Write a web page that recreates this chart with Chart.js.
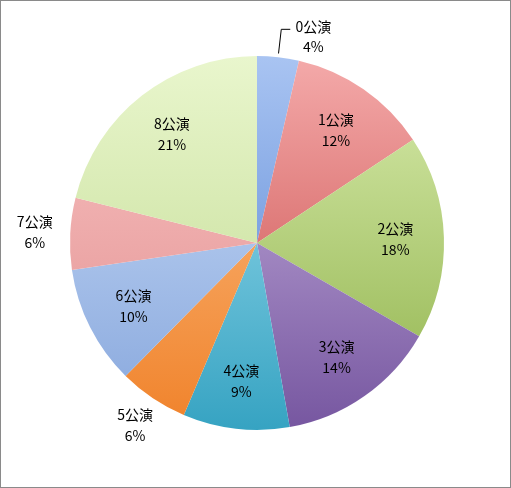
<!DOCTYPE html>
<html><head><meta charset="utf-8">
<script src="https://cdn.jsdelivr.net/npm/chart.js@4"></script>
<style>
html,body{margin:0;padding:0;background:#fff;}
#wrap{position:relative;width:511px;height:488px;}
#frame{position:absolute;left:0;top:0;width:511px;height:488px;box-sizing:border-box;border:1px solid #8a8a8a;pointer-events:none;}
</style></head><body>
<div id="wrap"><canvas id="c" width="511" height="488"></canvas><div id="frame"></div></div>
<script>
const categories = ['0公演','1公演','2公演','3公演','4公演','5公演','6公演','7公演','8公演'];
const values = [3.6,12.1,17.6,13.9,9.2,6.0,10.3,6.2,21.1];
const lightColors = ['#a9c4f2','#f4aaaa','#d9ecae','#cdb9e3','#a8e3f3','#fcc38d','#cddff9','#f8c4c4','#e9f6cd'];
const darkColors  = ['#4f7fd0','#c64442','#8fb24a','#7656a0','#36a3c2','#f0822a','#86a6dc','#e28e8e','#bfd98e'];
const outsideLabels = {0:'leader',5:1.17,7:1.19};

const labelPlugin = {
  id:'labels',
  afterDatasetsDraw(chart){
    const ctx = chart.ctx;
    const meta = chart.getDatasetMeta(0);
    const total = values.reduce((a,b)=>a+b,0);
    ctx.save();
    ctx.font = '14px "Noto Sans CJK JP", "Noto Sans", sans-serif';
    ctx.fillStyle = '#000';
    ctx.textBaseline = 'middle';
    meta.data.forEach((arc,i)=>{
      const p = arc.getProps(['x','y','startAngle','endAngle','outerRadius'],true);
      const mid = (p.startAngle+p.endAngle)/2;
      const pct = Math.round(values[i]/total*100)+'%';
      const o = outsideLabels[i];
      if (o === 'leader') {
        const x1 = p.x+Math.cos(mid)*p.outerRadius*1.02, y1 = p.y+Math.sin(mid)*p.outerRadius*1.02;
        const x2 = p.x+Math.cos(mid)*p.outerRadius*1.15, y2 = p.y+Math.sin(mid)*p.outerRadius*1.15;
        ctx.strokeStyle='#000'; ctx.lineWidth=1;
        ctx.beginPath(); ctx.moveTo(x1,y1); ctx.lineTo(x2,y2); ctx.lineTo(x2+9,y2); ctx.stroke();
        ctx.textAlign='center';
        ctx.fillText(categories[i], x2+32, y2-3);
        ctx.fillText(pct, x2+32, y2+17);
      } else {
        const f = o ? o : 0.74;
        const x = p.x+Math.cos(mid)*p.outerRadius*f, y = p.y+Math.sin(mid)*p.outerRadius*f;
        ctx.textAlign='center';
        ctx.fillText(categories[i], x, y-10);
        ctx.fillText(pct, x, y+11);
      }
    });
    ctx.restore();
  }
};

new Chart(document.getElementById('c'),{
  type:'pie',
  data:{labels:categories,datasets:[{data:values,borderWidth:0,
    backgroundColor:(c)=>{
      const ch=c.chart, a=ch.chartArea; const i=c.dataIndex;
      if(!a) return darkColors[i];
      const g=ch.ctx.createLinearGradient(0,a.top,0,a.bottom);
      g.addColorStop(0,lightColors[i]); g.addColorStop(1,darkColors[i]);
      return g;
    }}]},
  options:{responsive:false,animation:false,
    layout:{padding:{left:70,right:67,top:56,bottom:58}},
    plugins:{legend:{display:false},tooltip:{enabled:false}}},
  plugins:[labelPlugin]
});
</script></body></html>
